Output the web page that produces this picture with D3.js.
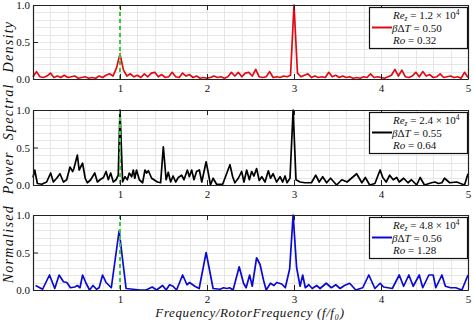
<!DOCTYPE html>
<html>
<head>
<meta charset="utf-8">
<script src="https://cdn.jsdelivr.net/npm/d3@7"></script>
<style>
  html, body { margin: 0; padding: 0; background: #fff; }
  svg { display: block; }
  text { font-family: "Liberation Serif", "Times New Roman", serif; fill: #111; }
</style>
</head>
<body>
<svg id="chart" width="474" height="322"></svg>
<script>
// ---- spectra: frequency (f/f0) and normalised PSD ----
const freqRed = d3.range(0, 5.0001, 0.04);
const psdRed = [
  0.03,0.10,0.03,0.02,0.04,0.08,0.02,0.04,0.02,0.05,
  0.02,0.03,0.04,0.01,0.02,0.03,0.01,0.02,0.01,0.04,
  0.02,0.05,0.07,0.04,0.15,0.34,0.12,0.04,0.07,0.03,
  0.05,0.02,0.07,0.03,0.08,0.09,0.03,0.06,0.02,0.03,
  0.09,0.03,0.02,0.08,0.04,0.06,0.02,0.04,0.01,0.02,
  0.01,0.02,0.04,0.02,0.03,0.01,0.03,0.09,0.04,0.09,
  0.03,0.08,0.09,0.04,0.13,0.03,0.02,0.03,0.10,0.02,
  0.03,0.02,0.04,0.03,0.05,1.00,0.08,0.03,0.05,0.07,
  0.02,0.04,0.02,0.03,0.02,0.09,0.03,0.05,0.02,0.04,
  0.02,0.03,0.01,0.02,0.01,0.03,0.02,0.07,0.02,0.03,
  0.02,0.01,0.03,0.05,0.13,0.04,0.12,0.03,0.02,0.04,
  0.09,0.03,0.10,0.04,0.06,0.02,0.03,0.07,0.02,0.03,
  0.04,0.02,0.03,0.01,0.09,0.02
];

const freqBlack = [
  0.00,0.02,0.05,0.10,0.157,0.203,0.234,0.272,0.31,0.35,
  0.387,0.425,0.456,0.47,0.51,0.53,0.57,0.60,0.625,0.663,
  0.71,0.74,0.77,0.81,0.84,0.866,0.893,0.923,0.954,0.98,
  1.00,1.03,1.057,1.084,1.107,1.134,1.153,1.17,1.19,1.222,
  1.26,1.287,1.306,1.326,1.364,1.39,1.43,1.467,1.498,1.53,
  1.555,1.582,1.61,1.64,1.67,1.709,1.736,1.774,1.797,1.824,
  1.85,1.88,1.912,1.94,1.99,2.015,2.04,2.07,2.11,2.18,
  2.264,2.295,2.32,2.36,2.398,2.425,2.456,2.487,2.513,2.54,
  2.57,2.60,2.63,2.667,2.705,2.73,2.76,2.80,2.84,2.87,
  2.897,2.92,2.954,2.99,3.023,3.07,3.126,3.20,3.25,3.29,
  3.33,3.375,3.42,3.49,3.55,3.61,3.66,3.72,3.78,3.82,
  3.87,3.93,3.99,4.02,4.06,4.10,4.14,4.18,4.21,4.26,
  4.31,4.35,4.41,4.45,4.50,4.58,4.62,4.66,4.70,4.73,
  4.79,4.87,4.96,5.00
];
const psdBlack = [
  0.10,0.20,0.02,0.01,0.04,0.16,0.04,0.09,0.15,0.04,
  0.07,0.24,0.18,0.22,0.40,0.20,0.29,0.09,0.03,0.07,
  0.16,0.04,0.07,0.10,0.18,0.07,0.16,0.04,0.07,0.13,
  1.00,0.04,0.11,0.07,0.16,0.11,0.20,0.09,0.20,0.07,
  0.03,0.20,0.16,0.19,0.09,0.07,0.04,0.03,0.51,0.07,
  0.17,0.04,0.12,0.04,0.10,0.13,0.07,0.20,0.11,0.20,
  0.07,0.18,0.20,0.04,0.31,0.16,0.00,0.09,0.01,0.01,
  0.27,0.11,0.03,0.09,0.18,0.04,0.20,0.07,0.18,0.12,
  0.22,0.06,0.11,0.04,0.19,0.09,0.15,0.04,0.11,0.04,
  0.12,0.03,0.09,1.00,0.07,0.04,0.03,0.03,0.13,0.04,
  0.11,0.03,0.09,0.00,0.07,0.04,0.09,0.15,0.03,0.10,
  0.00,0.02,0.20,0.10,0.04,0.13,0.07,0.10,0.04,0.09,
  0.03,0.07,0.00,0.10,0.00,0.03,0.04,0.02,0.03,0.09,
  0.03,0.04,0.00,0.15
];

const freqBlue = [
  0.03,0.11,0.19,0.25,0.30,0.35,0.39,0.43,0.48,0.51,
  0.54,0.57,0.61,0.65,0.69,0.73,0.76,0.80,0.84,0.90,
  0.99,1.07,1.15,1.23,1.30,1.37,1.42,1.49,1.53,1.57,
  1.61,1.65,1.72,1.77,1.80,1.86,1.91,1.99,2.04,2.07,
  2.15,2.19,2.23,2.26,2.30,2.37,2.42,2.45,2.49,2.52,
  2.57,2.61,2.65,2.68,2.73,2.77,2.80,2.86,2.90,2.95,
  2.99,3.03,3.07,3.10,3.13,3.17,3.21,3.26,3.30,3.37,
  3.43,3.48,3.53,3.58,3.64,3.71,3.79,3.86,3.93,3.99,
  4.03,4.13,4.21,4.26,4.32,4.37,4.44,4.48,4.55,4.60,
  4.63,4.70,4.74,4.80,4.86,4.93,5.00
];
const psdBlue = [
  0.06,0.01,0.20,0.02,0.20,0.11,0.10,0.03,0.04,0.06,
  0.03,0.20,0.09,0.00,0.06,0.01,0.03,0.20,0.10,0.03,
  0.79,0.02,0.01,0.00,0.00,0.04,0.00,0.06,0.00,0.07,
  0.05,0.00,0.20,0.07,0.10,0.05,0.02,0.50,0.20,0.02,
  0.01,0.03,0.02,0.03,0.00,0.31,0.09,0.03,0.20,0.05,
  0.43,0.34,0.13,0.00,0.09,0.06,0.10,0.08,0.03,0.28,
  1.00,0.30,0.05,0.20,0.03,0.07,0.02,0.06,0.02,0.09,
  0.03,0.07,0.02,0.06,0.09,0.00,0.03,0.20,0.02,0.09,
  0.04,0.02,0.20,0.05,0.20,0.05,0.20,0.03,0.20,0.20,
  0.03,0.20,0.05,0.03,0.03,0.00,0.20
];

// legend parameters
const reMantissa = ["1.2", "2.4", "4.8"];
const reExponent = ["4", "4", "4"];
const betaDeltaT = ["0.50", "0.55", "0.56"];
const rossby = ["0.32", "0.64", "1.28"];
const seriesColors = ["#e00a14", "#000000", "#0a0ad2"];

const xTicks = [0, 1, 2, 3, 4, 5];
const yTicks = [0, 0.5, 1];
const rotorFrequency = 1;

const panels = [
  { f: freqRed, v: psdRed },
  { f: freqBlack, v: psdBlack },
  { f: freqBlue, v: psdBlue }
];

// ---- layout ----
const left = 33, right = 468;
const tops = [5, 110, 215];
const bottoms = [79, 185, 290];

const svg = d3.select("#chart");
const x = d3.scaleLinear().domain([0, 5]).range([left, right]);

panels.forEach((p, k) => {
  const y = d3.scaleLinear().domain([0, 1]).range([bottoms[k], tops[k]]);
  const g = svg.append("g");

  // background grid (major + minor)
  const grid = g.append("g").attr("shape-rendering", "crispEdges");
  grid.selectAll("line.vx").data(d3.range(0.2, 4.99, 0.2)).join("line")
    .attr("x1", d => Math.round(x(d)) + 0.5).attr("x2", d => Math.round(x(d)) + 0.5)
    .attr("y1", tops[k]).attr("y2", bottoms[k])
    .attr("stroke", "#e6e6e6").attr("stroke-width", 1);
  grid.selectAll("line.hy").data(d3.range(0.1, 0.99, 0.1)).join("line")
    .attr("y1", d => Math.round(y(d)) + 0.5).attr("y2", d => Math.round(y(d)) + 0.5)
    .attr("x1", left).attr("x2", right)
    .attr("stroke", "#e6e6e6").attr("stroke-width", 1);

  // spectrum line
  const pts = p.f.map((f, i) => [f, p.v[i]]);
  g.append("path")
    .datum(pts)
    .attr("fill", "none")
    .attr("stroke", seriesColors[k])
    .attr("stroke-width", 1.7)
    .attr("stroke-linejoin", "round")
    .attr("d", d3.line().x(d => x(d[0])).y(d => y(d[1])));

  // rotor frequency marker
  g.append("line")
    .attr("x1", x(rotorFrequency)).attr("x2", x(rotorFrequency))
    .attr("y1", tops[k]).attr("y2", bottoms[k])
    .attr("stroke", "#3cc83c").attr("stroke-width", 2)
    .attr("stroke-dasharray", "4,3");

  // axes (inward ticks on all four sides)
  const axB = g.append("g").attr("transform", `translate(0,${bottoms[k]})`)
    .call(d3.axisBottom(x).tickValues(xTicks).tickSizeInner(-5).tickSizeOuter(0)
      .tickPadding(5).tickFormat(d => d === 0 ? "" : d));
  const axT = g.append("g").attr("transform", `translate(0,${tops[k]})`)
    .call(d3.axisTop(x).tickValues(xTicks).tickSizeInner(-5).tickSizeOuter(0).tickFormat(""));
  const axL = g.append("g").attr("transform", `translate(${left},0)`)
    .call(d3.axisLeft(y).tickValues(yTicks).tickSizeInner(-5).tickSizeOuter(0)
      .tickPadding(3).tickFormat(d3.format(".1f")));
  const axR = g.append("g").attr("transform", `translate(${right},0)`)
    .call(d3.axisRight(y).tickValues(yTicks).tickSizeInner(-5).tickSizeOuter(0).tickFormat(""));
  [axB, axT, axL, axR].forEach(a => {
    a.select(".domain").attr("stroke", "#222").attr("stroke-width", 1.2);
    a.selectAll(".tick line").attr("stroke", "#222");
    a.selectAll("text").attr("font-family", "Liberation Serif, serif")
      .attr("font-size", 11).attr("fill", "#222");
  });

  // legend box
  const lg = g.append("g").attr("transform", `translate(369,${tops[k] + 2})`);
  lg.append("rect").attr("x", 0.5).attr("y", 0.5).attr("width", 98).attr("height", 41)
    .attr("fill", "#fff").attr("stroke", "#111").attr("stroke-width", 1.2);
  lg.append("line").attr("x1", 3).attr("x2", 23).attr("y1", 20.5).attr("y2", 20.5)
    .attr("stroke", seriesColors[k]).attr("stroke-width", 2);

  const fs = 11;
  const t1 = lg.append("text").attr("x", 24).attr("y", 11.5).attr("font-size", fs);
  t1.append("tspan").attr("font-style", "italic").text("Re");
  t1.append("tspan").attr("font-style", "italic").attr("font-size", 7.5).attr("dy", 2).text("z");
  t1.append("tspan").attr("dy", -2).text(` = ${reMantissa[k]} × 10`);
  t1.append("tspan").attr("font-size", 7.5).attr("dy", -3.5).text(reExponent[k]);

  const t2 = lg.append("text").attr("x", 23).attr("y", 24.5).attr("font-size", fs);
  t2.append("tspan").attr("font-style", "italic").text("β");
  t2.append("tspan").text("Δ");
  t2.append("tspan").attr("font-style", "italic").text("T");
  t2.append("tspan").text(` = ${betaDeltaT[k]}`);

  const t3 = lg.append("text").attr("x", 24).attr("y", 37).attr("font-size", fs);
  t3.append("tspan").attr("font-style", "italic").text("Ro");
  t3.append("tspan").text(` = ${rossby[k]}`);
});

// axis titles
svg.append("text")
  .attr("x", 250).attr("y", 317)
  .attr("text-anchor", "middle")
  .attr("font-size", 13).attr("font-style", "italic")
  .attr("letter-spacing", 0.6)
  .text("Frequency/RotorFrequency (f/f₀)");

svg.append("text")
  .attr("transform", "translate(13,152) rotate(-90)")
  .attr("text-anchor", "middle")
  .attr("font-size", 14).attr("font-style", "italic")
  .attr("letter-spacing", 1.3)
  .attr("word-spacing", 6)
  .text("Normalised Power Spectral Density");
</script>
</body>
</html>
